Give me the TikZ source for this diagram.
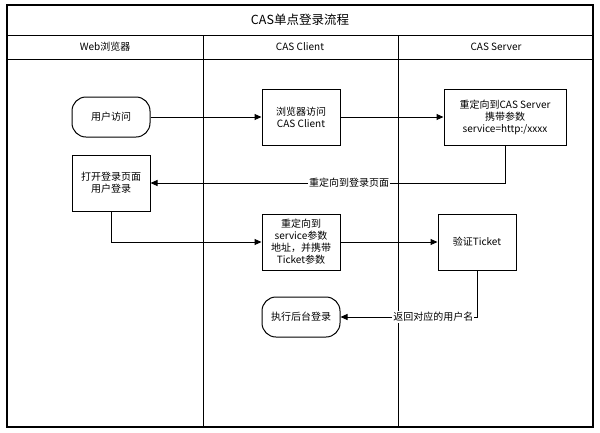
\documentclass[tikz,border=0pt]{standalone}
\usepackage{fontspec}
\setmainfont{Noto Sans CJK SC}
\usetikzlibrary{arrows.meta,positioning}

\begin{document}
\begin{tikzpicture}[
	x = 1pt, y = -1pt,
	> = {Triangle[length=7pt,width=6pt]}, % arrow head style
	line width = 1pt,
	font = \fontsize{10}{12}\selectfont,
	B/.style={rectangle, draw=black, minimum width=78pt, minimum height=56pt, align=center, inner sep=2pt},  % process box
	T/.style={rectangle, rounded corners=14pt, draw=black, minimum width=78pt, minimum height=40pt, align=center}, % terminal
	L/.style={fill=white, inner sep=1pt},  % connector label
	]
	\useasboundingbox (0,0) rectangle (600,432);

	% Swimlane frame
	\draw[line width=1.3pt] (7,5) rectangle (593,427);
	\draw (7,35) -- (593,35);
	\draw (7,59) -- (593,59);
	\draw (203,35) -- (203,427);
	\draw (398,35) -- (398,427);
	\node (title) at (300,20) {\fontsize{12.5}{14}\selectfont CAS单点登录流程};
	\node (web) at (105,47) {Web浏览器};
	\node (client) at (300,47) {CAS Client};
	\node (server) at (496,47) {CAS Server};

	% Nodes
	\node[T] (visit) at (111,117) {用户访问};
	\node[B] (access) at (301,117) {浏览器访问\\CAS Client};
	\node[B, minimum width=122pt] (redir) at (505,117) {重定向到CAS Server\\携带参数\\service=http:/xxxx};
	\node[B] (login) at (111,183) {打开登录页面\\用户登录};
	\node[B, text width=72pt] (back) at (301,242) {重定向到\\service参数\\地址，并携带\\Ticket参数};
	\node[B] (check) at (477,242) {验证Ticket};
	\node[T] (exec) at (301,317) {执行后台登录};

	% Connectors
	\draw[->] (visit) -- (access);
	\draw[->] (access) -- (redir);
	\draw[->] (redir.south) |- (login.east) node[L, pos=0.72] {重定向到登录页面};
	\draw[->] (login.south) |- (back.west);
	\draw[->] (back) -- (check);
	\draw[->] (check.south) |- (exec.east) node[L, pos=0.66] {返回对应的用户名};
\end{tikzpicture}
\end{document}
